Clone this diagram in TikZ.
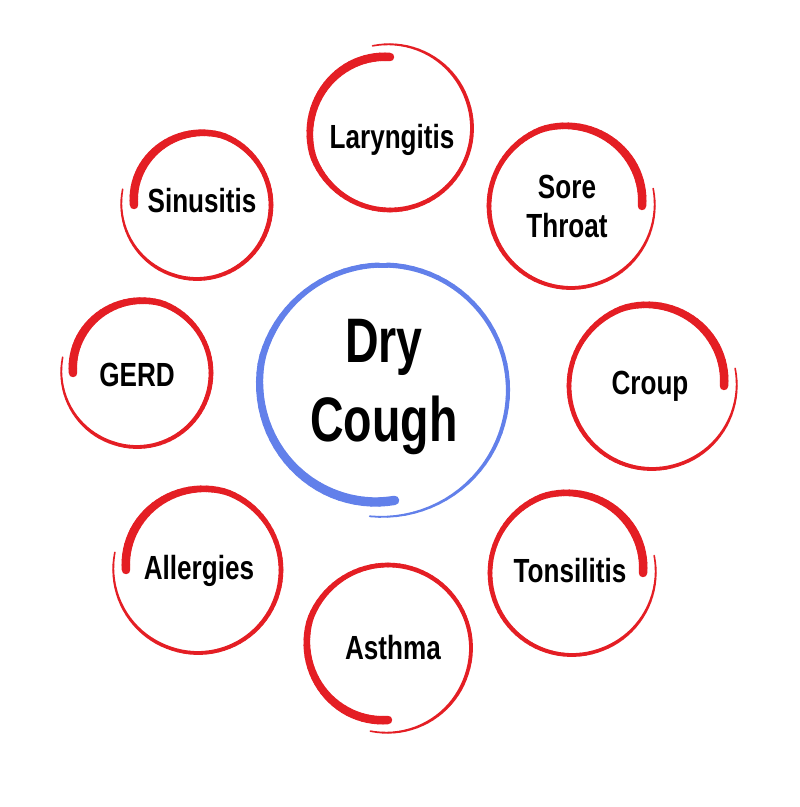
\documentclass[tikz,border=0pt]{standalone}
\usepackage{fontspec}
\usepackage{tikz}
\usetikzlibrary{calc}
\newfontfamily\itemfont[FakeStretch=0.78]{Liberation Sans Bold}
\newfontfamily\titlefont[FakeStretch=0.74]{Liberation Sans Bold}
\definecolor{ringred}{RGB}{228,30,36}
\definecolor{ringblue}{RGB}{98,128,234}
\tikzstyle{item} = [inner sep=0pt, align=center, font=\itemfont\fontsize{23.8}{28.3}\selectfont]
\tikzstyle{title} = [inner sep=0pt, align=center, font=\titlefont\fontsize{44.7}{56.7}\selectfont]

% brush ring: #1 centre, #2 radius, #3 start angle, #4 direction, #5 colour, #6 width scale, #7 inset
\newcommand{\brushring}[7]{%
  \foreach \t in {0,...,92}{%
    \pgfmathsetmacro{\pA}{4*\t}
    \pgfmathsetmacro{\pB}{4*\t+4}
    \pgfmathsetmacro{\aA}{#3+(#4)*\pA}
    \pgfmathsetmacro{\aB}{#3+(#4)*\pB}
    \pgfmathsetmacro{\rA}{#2-#7*max(0,1-\pA/110)+2*max(0,(\pA-290)/82)}
    \pgfmathsetmacro{\rB}{#2-#7*max(0,1-\pB/110)+2*max(0,(\pB-290)/82)}
    \pgfmathsetmacro{\w}{#6*0.709*(\pA<30 ? 8.5 : (\pA<150 ? 8.5-3.5*(\pA-30)/120 : (\pA<300 ? 5-1.5*(\pA-150)/150 : 3.5-2*(\pA-300)/72)))}
    \draw[#5, line width=\w pt, line cap=round] ($#1+(\aA:\rA)$) -- ($#1+(\aB:\rB)$);
  }%
}

\begin{document}
\begin{tikzpicture}[x=0.025cm, y=0.025cm]

\fill[white] (0,0) rectangle (800,-807);
\useasboundingbox (0,0) rectangle (800,-807);

% centre
\node[title] (drycough) at (384,-387) {Dry\\Cough};

% causes, clockwise from the top
\node[item] (laryngitis) at (392,-139.5) {Laryngitis};
\node[item] (sorethroat) at (567,-206.5) {Sore\\Throat};
\node[item] (croup) at (650,-386) {Croup};
\node[item] (tonsilitis) at (570,-571) {Tonsilitis};
\node[item] (asthma) at (393,-647.5) {Asthma};
\node[item] (allergies) at (199,-571) {Allergies};
\node[item] (gerd) at (137,-375) {GERD};
\node[item] (sinusitis) at (202,-200.5) {Sinusitis};

% hand drawn rings
\brushring{(383,-390)}{125}{-84}{-1}{ringblue}{1.1}{14}
\brushring{(390,-128)}{82}{90}{1}{ringred}{1}{11}
\brushring{(571,-206)}{82}{0}{1}{ringred}{1}{11}
\brushring{(652,-386)}{83}{0}{1}{ringred}{1}{11}
\brushring{(572,-573)}{82}{0}{1}{ringred}{1}{11}
\brushring{(388,-648)}{83}{-90}{-1}{ringred}{1}{11}
\brushring{(198,-570)}{83}{180}{-1}{ringred}{1}{11}
\brushring{(137,-373)}{74}{180}{-1}{ringred}{1}{10}
\brushring{(197,-205)}{74}{180}{-1}{ringred}{1}{11}

\end{tikzpicture}
\end{document}
